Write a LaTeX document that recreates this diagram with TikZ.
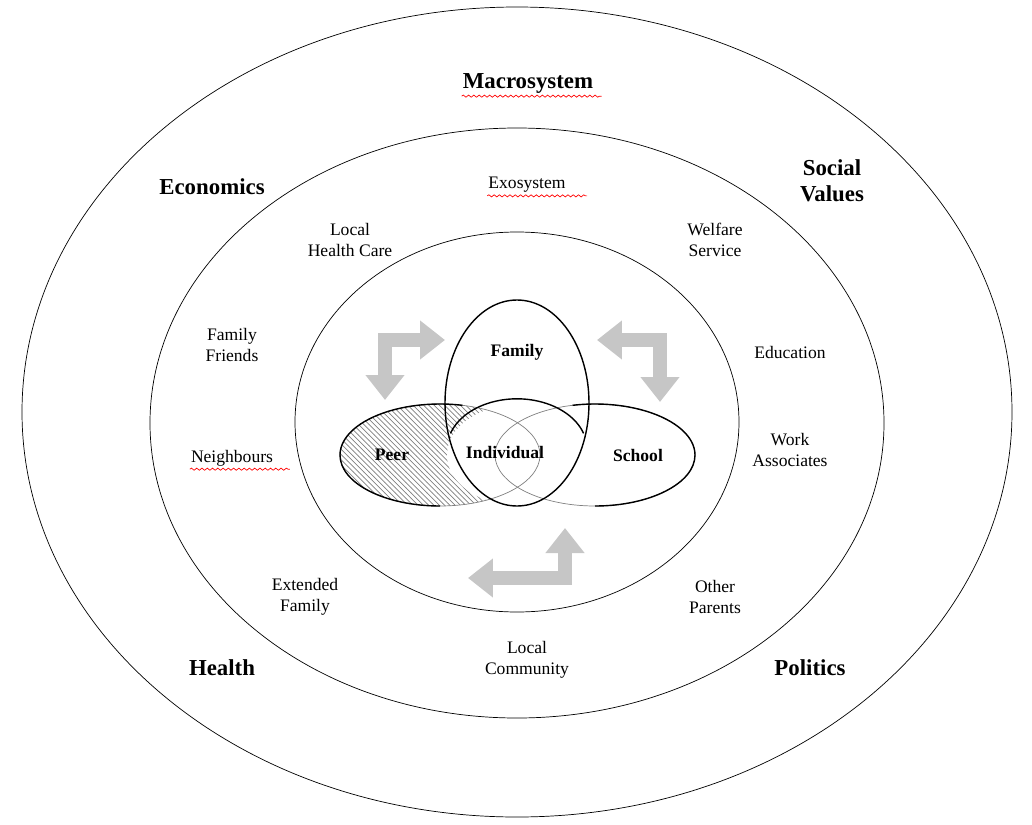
\documentclass[tikz,border=0pt]{standalone}
\usepackage{fontspec}
\setmainfont{Liberation Serif}
\usetikzlibrary{arrows.meta,patterns,decorations.pathmorphing}

\tikzset{
  big/.style={font=\fontsize{13}{15}\selectfont\bfseries, align=center},
  small/.style={font=\fontsize{10}{12}\selectfont, align=center},
  inner/.style={font=\fontsize{10}{12}\selectfont\bfseries},
  spell/.style={red, thin, decorate, decoration={snake, amplitude=0.6pt, segment length=3pt}},
  flow/.style={gray!45, line width=0.28cm,
    {Triangle[width=0.75cm,length=0.5cm]}-{Triangle[width=0.75cm,length=0.5cm]}}
}

\begin{document}
\begin{tikzpicture}[x=0.02cm, y=-0.02cm]
\useasboundingbox (0,0) rectangle (1032,825);

% rings
\draw[thin] (517,412) ellipse [x radius=495, y radius=405];
\draw[thin] (517,423) ellipse [x radius=367, y radius=295];
\draw[thin] (517,422) ellipse [x radius=222, y radius=190];

% micro system
\fill[pattern=north west lines, pattern color=gray] (440,455) ellipse [x radius=100, y radius=51];
\fill[white] (517,455) ellipse [x radius=70, y radius=50];
\draw[gray, thin] (440,455) ellipse [x radius=100, y radius=51];
\draw[gray, thin] (595,455) ellipse [x radius=100, y radius=51];
\draw[thick] (440,455) ++(90:51) arc [start angle=90, end angle=283, x radius=100, y radius=51];
\draw[thick] (595,455) ++(90:51) arc [start angle=90, end angle=-103, x radius=100, y radius=51];
\draw[thick] (517,403) ellipse [x radius=72, y radius=103];
\draw[thick] (517,455) ++(198:70) arc [start angle=198, end angle=342, x radius=70, y radius=50];

% arrows
\coordinate (tl1) at (385,400); \coordinate (tl2) at (385,340); \coordinate (tl3) at (445,340);
\coordinate (tr1) at (597,340); \coordinate (tr2) at (660,340); \coordinate (tr3) at (660,402);
\coordinate (b1) at (565,528);  \coordinate (b2) at (565,578);  \coordinate (b3) at (468,578);
\draw[flow] (tl1) -- (tl2) -- (tl3);
\draw[flow] (tr1) -- (tr2) -- (tr3);
\draw[flow] (b1) -- (b2) -- (b3);

% labels
\node[big] (macro) at (528,83) {Macrosystem};
\node[big] (econ) at (212,187) {Economics};
\node[big] (social) at (832,181) {Social\\Values};
\node[big] (health) at (222,668) {Health};
\node[big] (politics) at (810,668) {Politics};

\node[small] (exo) at (527,185) {Exosystem};
\node[small] (lhc) at (350,240) {Local\\Health Care};
\node[small] (welfare) at (715,240) {Welfare\\Service};
\node[small] (ff) at (232,345) {Family\\Friends};
\node[small] (edu) at (790,352) {Education};
\node[small] (neigh) at (232,458) {Neighbours};
\node[small] (work) at (790,450) {Work\\Associates};
\node[small] (ext) at (305,597) {Extended\\Family};
\node[small] (other) at (715,597) {Other\\Parents};
\node[small] (comm) at (527,660) {Local\\Community};

\node[inner] (family) at (517,352) {Family};
\node[inner] (peer) at (392,455) {Peer};
\node[inner] (indiv) at (505,453) {Individual};
\node[inner] (school) at (638,455) {School};

% spelling marks
\draw[spell] (macro.south west) ++(5,-3) -- ++(140,0);
\draw[spell] (exo.south west) ++(5,-3) -- ++(100,0);
\draw[spell] (neigh.south west) ++(5,-3) -- ++(100,0);

\end{tikzpicture}
\end{document}
